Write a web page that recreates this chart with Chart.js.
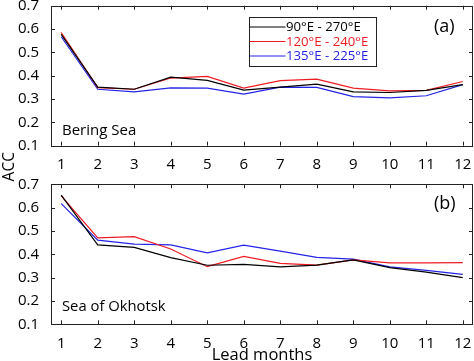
<!DOCTYPE html>
<html>
<head>
<meta charset="utf-8">
<script src="https://cdn.jsdelivr.net/npm/chart.js@4/dist/chart.umd.min.js"></script>
<style>
    body { margin: 0; width: 474px; height: 361px; overflow: hidden; background: #fff; position: relative; font-family: "Open Sans", sans-serif; }
    .wrap { position: absolute; left: 0; width: 474px; overflow: hidden; }
    .note { position: absolute; color: #000; white-space: nowrap; line-height: 1; }
</style>
</head>
<body>
<div class="wrap" style="top:-10px;height:180px"><canvas id="chartA" width="494" height="180"></canvas></div>
<div class="wrap" style="top:165px;height:196px"><canvas id="chartB" width="494" height="200"></canvas></div>
<div class="note" style="left:-6px;top:159px;font-size:15.5px;transform:rotate(-90deg);transform-origin:center">ACC</div>
<div class="note" style="left:62px;top:122px;font-size:15px">Bering Sea</div>
<div class="note" style="left:62px;top:298px;font-size:14.8px">Sea of Okhotsk</div>
<div class="note" style="left:434px;top:16px;font-size:18px">(a)</div>
<div class="note" style="left:434px;top:193px;font-size:18px">(b)</div>
<script>
const months = [1, 2, 3, 4, 5, 6, 7, 8, 9, 10, 11, 12];
const yTicks = [0.1, 0.2, 0.3, 0.4, 0.5, 0.6, 0.7];
const seriesNames = ["90°E - 270°E", "120°E - 240°E", "135°E - 225°E"];
const seriesColors = ["#000000", "#ee1c24", "#2424e6"];

// (a) Bering Sea
const bering90 = [0.577, 0.351, 0.342, 0.394, 0.380, 0.338, 0.351, 0.364, 0.331, 0.328, 0.337, 0.362];
const bering120 = [0.585, 0.349, 0.342, 0.390, 0.397, 0.347, 0.379, 0.385, 0.347, 0.335, 0.337, 0.375];
const bering135 = [0.567, 0.342, 0.331, 0.348, 0.347, 0.321, 0.351, 0.350, 0.310, 0.305, 0.314, 0.362];

// (b) Sea of Okhotsk
const okhotsk90 = [0.654, 0.440, 0.430, 0.386, 0.353, 0.357, 0.346, 0.354, 0.376, 0.343, 0.324, 0.300];
const okhotsk120 = [0.650, 0.470, 0.476, 0.423, 0.347, 0.391, 0.361, 0.354, 0.376, 0.363, 0.363, 0.364];
const okhotsk135 = [0.617, 0.461, 0.444, 0.440, 0.406, 0.439, 0.414, 0.387, 0.379, 0.346, 0.331, 0.314];

const FONT = "'Open Sans', sans-serif";

// 边框 + 朝内的刻度
const framePlugin = {
    id: 'frame',
    afterDraw(chart) {
        const {ctx, chartArea: a, scales: {x, y}} = chart;
        ctx.save();
        ctx.strokeStyle = '#222';
        ctx.lineWidth = 1;
        ctx.strokeRect(Math.round(a.left) + 0.5, Math.round(a.top) + 0.5,
            Math.round(a.right - a.left) - 1, Math.round(a.bottom - a.top));
        ctx.beginPath();
        const len = 4;
        x.ticks.forEach(t => {
            const px = Math.round(x.getPixelForValue(t.value)) + 0.5;
            ctx.moveTo(px, a.bottom); ctx.lineTo(px, a.bottom - len);
            ctx.moveTo(px, a.top); ctx.lineTo(px, a.top + len);
        });
        y.ticks.forEach(t => {
            const py = Math.round(y.getPixelForValue(t.value)) + 0.5;
            ctx.moveTo(a.left, py); ctx.lineTo(a.left + len, py);
            ctx.moveTo(a.right, py); ctx.lineTo(a.right - len, py);
        });
        ctx.stroke();
        ctx.restore();
    }
};

// 图例框
const legendBoxPlugin = {
    id: 'legendBox',
    afterDraw(chart, args, opts) {
        if (!opts.show) return;
        const {ctx} = chart;
        const x0 = 249.5, y0 = 27.5, w = 127, h = 49;
        ctx.save();
        ctx.fillStyle = '#fff';
        ctx.fillRect(x0, y0, w, h);
        ctx.strokeStyle = '#222';
        ctx.lineWidth = 1;
        ctx.strokeRect(x0, y0, w, h);
        ctx.font = `13.2px ${FONT}`;
        ctx.textBaseline = 'middle';
        chart.data.datasets.forEach((ds, i) => {
            const yy = y0 + 9.5 + i * 14.5;
            ctx.strokeStyle = ds.borderColor;
            ctx.lineWidth = 1.2;
            ctx.beginPath();
            ctx.moveTo(x0, yy); ctx.lineTo(x0 + 36, yy);
            ctx.stroke();
            ctx.fillStyle = ds.borderColor;
            ctx.fillText(ds.label, x0 + 36.5, yy + 0.5);
        });
        ctx.restore();
    }
};

const makeChart = (id, seriesList, opts) => {
    const ctx = document.getElementById(id).getContext('2d');
    return new Chart(ctx, {
        type: 'line',
        data: {
            datasets: seriesList.map((vals, i) => ({
                label: seriesNames[i],
                data: months.map((m, j) => ({x: m, y: vals[j]})),
                borderColor: seriesColors[i],
                backgroundColor: seriesColors[i],
                borderWidth: 1.2,
                pointRadius: 0,
                tension: 0,
                fill: false
            }))
        },
        options: {
            responsive: false,
            animation: false,
            layout: {padding: {top: opts.top, right: 21, left: 0, bottom: 0}},
            plugins: {
                legend: {display: false},
                tooltip: {enabled: false},
                legendBox: {show: opts.legend}
            },
            scales: {
                x: {
                    type: 'linear',
                    min: 0.72,
                    max: 12.28,
                    afterBuildTicks: s => { s.ticks = months.map(v => ({value: v})); },
                    afterFit: s => { s.height = opts.xHeight; },
                    grid: {display: false},
                    border: {display: false},
                    ticks: {
                        color: '#000',
                        padding: 2,
                        maxRotation: 0,
                        autoSkip: false,
                        font: {family: FONT, size: 15}
                    },
                    title: {
                        display: opts.xTitle,
                        text: 'Lead months',
                        color: '#000',
                        padding: {top: 0, bottom: 0},
                        font: {family: FONT, size: 16.5}
                    }
                },
                y: {
                    min: 0.1,
                    max: 0.7,
                    afterBuildTicks: s => { s.ticks = yTicks.map(v => ({value: v})); },
                    afterFit: s => { s.width = 51; },
                    grid: {display: false},
                    border: {display: false},
                    ticks: {
                        color: '#000',
                        padding: 4,
                        font: {family: FONT, size: 15},
                        callback: v => v.toFixed(1)
                    }
                }
            }
        },
        plugins: [framePlugin, legendBoxPlugin]
    });
};

makeChart('chartA', [bering90, bering120, bering135], {top: 15.7, xHeight: 24.3, legend: true, xTitle: false});
makeChart('chartB', [okhotsk90, okhotsk120, okhotsk135], {top: 19.3, xHeight: 40.7, legend: false, xTitle: true});
</script>
</body>
</html>
